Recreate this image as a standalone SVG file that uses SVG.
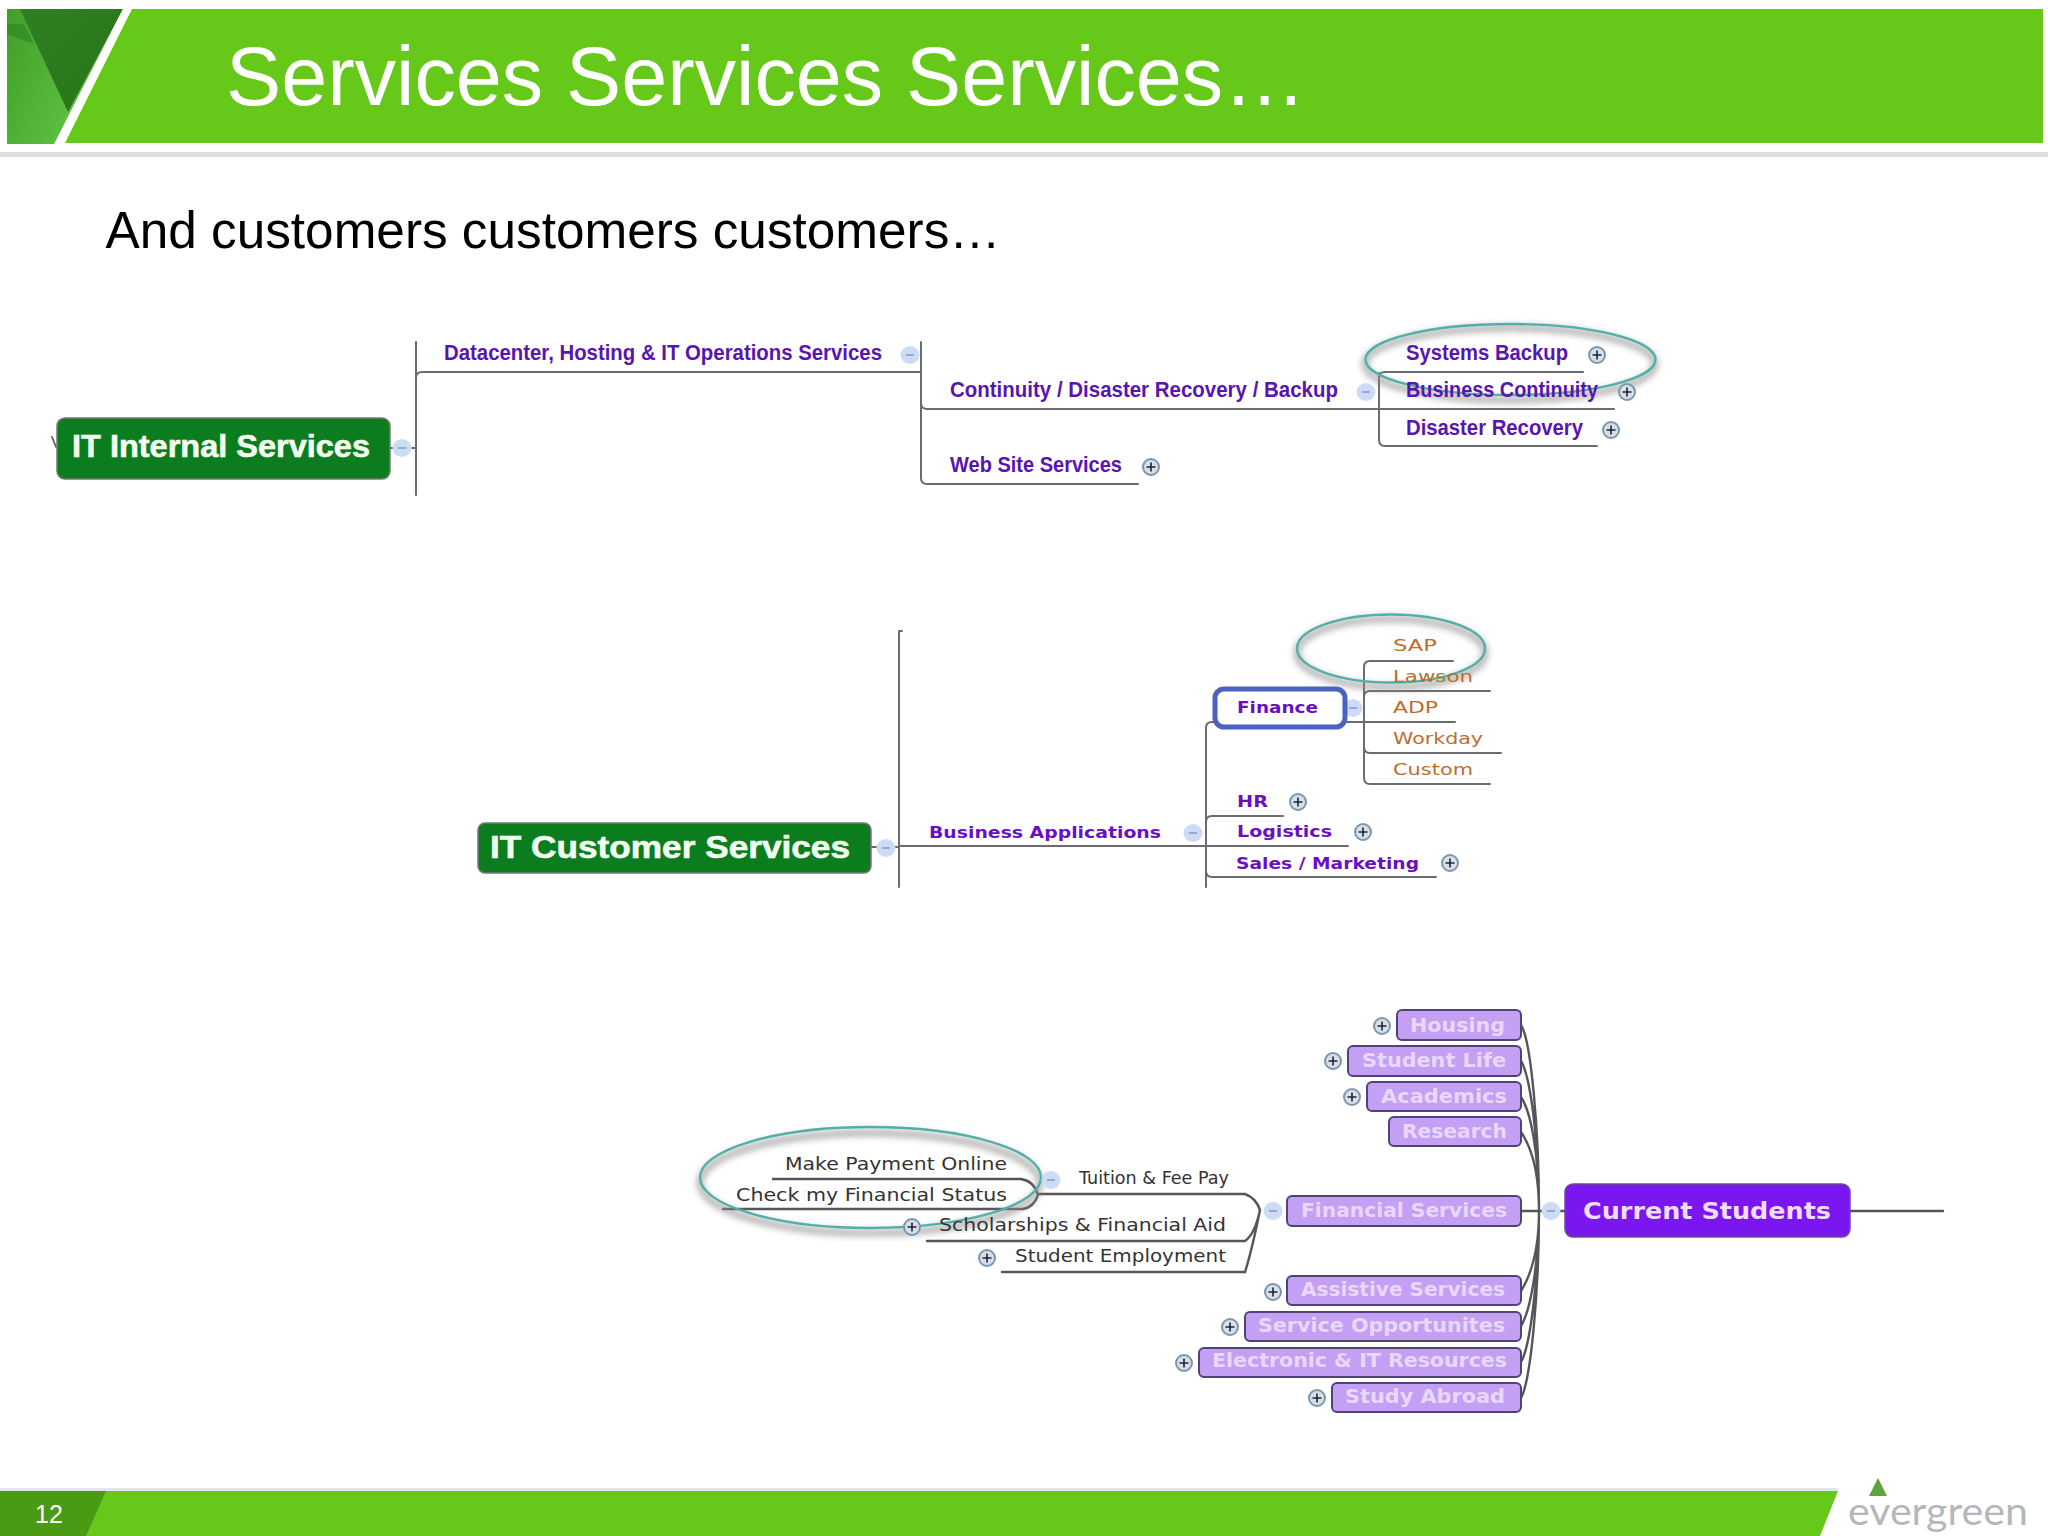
<svg xmlns="http://www.w3.org/2000/svg" width="2048" height="1536" viewBox="0 0 2048 1536">
<style>
.ln{fill:none;stroke:#6b6b70;stroke-width:2;stroke-linecap:round}
.cv{fill:none;stroke:#55555a;stroke-width:2.4;stroke-linecap:round}
.ring{fill:none;stroke:#52afa9;stroke-width:2.4}
.ringsh{fill:none;stroke:#8f8f8f;stroke-width:7;opacity:.65;filter:url(#bl)}
.p1{font:bold 22px "Liberation Sans",Arial,sans-serif;fill:#5a14b0}
.p2{font:bold 16.5px "DejaVu Sans",sans-serif;fill:#6a10c4}
.or{font:16.5px "DejaVu Sans",sans-serif;fill:#bd6c2c}
.bk{font:17px "DejaVu Sans",sans-serif;fill:#333}
.bx{fill:#c4a0f4;stroke:#4f4478;stroke-width:2}
.bt{font:bold 19px "DejaVu Sans",sans-serif;fill:#e9d8fb}
.root{fill:#0b7d1f;stroke:#777;stroke-width:1.5}
.rt{font:bold 32px "Liberation Sans",Arial,sans-serif;fill:#f2fff0;stroke:#f2fff0;stroke-width:.6}
</style>
<defs>
<filter id="bl" x="-20%" y="-40%" width="140%" height="180%"><feGaussianBlur stdDeviation="3"/></filter>
<linearGradient id="lg" x1="0" y1="0" x2="1" y2="1"><stop offset="0" stop-color="#3f9e2a"/><stop offset="1" stop-color="#5cc041"/></linearGradient>
<linearGradient id="dg" x1="0" y1="0" x2="1" y2="1"><stop offset="0" stop-color="#2f7f22"/><stop offset="1" stop-color="#2a7518"/></linearGradient>
<g id="plus"><circle r="8" fill="#d5e0ea" stroke="#7d97aa" stroke-width="2"/><path d="M-4.5 0H4.5M0-4.5V4.5" stroke="#223" stroke-width="1.6"/></g>
<g id="minus"><ellipse rx="9.5" ry="9" fill="#cddcf6"/><path d="M-4 0H4" stroke="#8a9cc0" stroke-width="1.6"/></g>
</defs>
<rect width="2048" height="1536" fill="#fff"/>

<g id="header">
<rect x="7" y="9" width="58" height="135" fill="url(#lg)"/>
<polygon points="65,9 123,9 55,144 65,144" fill="#5cc041"/>
<polygon points="20,9 123,9 68,112" fill="url(#dg)"/>
<polygon points="7,24 24,24 34,44 7,34" fill="#2f8a22" opacity=".7"/>
<polygon points="123,9 132,9 65,144 54,144" fill="#fff"/>
<polygon points="132,9 2043,9 2043,143 65,143" fill="#66c91a"/>
<rect x="0" y="152" width="2048" height="5" fill="#dcdce0"/>
<text x="226" y="105" font-family="Liberation Sans, Arial, sans-serif" font-size="82.7" fill="#fff">Services Services Services…</text>
</g>
<text id="subtitle" x="105.5" y="248" font-family="Liberation Sans, Arial, sans-serif" font-size="51.3" fill="#000">And customers customers customers…</text>

<g id="connectors">
<path class="ln" d="M52 437L56 447M390 448H416M416 342V495M416 378Q416 372 422 372H921M921 342V478Q921 484 927 484H1138M921 403Q921 409 927 409H1614M1379 378Q1379 372 1385 372H1583M1379 373V440Q1379 446 1385 446H1597"/>
<path class="ln" d="M871 847H899M899 631V887M899 631H902M899 846H1348M1206 887V728Q1206 722 1212 722H1455M1206 822Q1206 816 1212 816H1283M1206 871Q1206 877 1212 877H1436M1364 667Q1364 661 1370 661H1453M1364 667V778Q1364 784 1370 784H1490M1364 697Q1364 691 1370 691H1490M1364 722H1455M1364 747Q1364 753 1370 753H1501"/>
<path class="cv" d="M773 1179H1021Q1034 1181 1038 1195Q1034 1207 1023 1209H723M1038 1194H1245Q1256 1198 1260 1210Q1255 1234 1245 1241H927M1260 1210Q1252 1250 1245 1272H1002"/>
<path class="cv" d="M1521 1211H1542M1521 1025C1531 1040 1539 1130 1539 1211M1521 1061C1530 1075 1539 1140 1539 1211M1521 1097C1530 1110 1539 1150 1539 1211M1521 1132C1530 1145 1539 1170 1539 1211M1521 1291C1531 1275 1539 1250 1539 1211M1521 1326C1531 1310 1539 1260 1539 1211M1521 1362C1531 1345 1539 1270 1539 1211M1521 1398C1531 1380 1539 1290 1539 1211M1560 1211H1565M1850 1211H1943"/>
</g>

<g id="ring-internal"><ellipse class="ringsh" cx="1510" cy="364" rx="145" ry="36"/><ellipse class="ring" cx="1510.5" cy="359.5" rx="145" ry="35.5"/></g>
<g id="ring-sap"><ellipse class="ringsh" cx="1391" cy="653" rx="94" ry="34"/><ellipse class="ring" cx="1391" cy="648.5" rx="94" ry="34"/></g>
<g id="ring-pay"><ellipse class="ringsh" cx="870" cy="1183" rx="170" ry="50"/><ellipse class="ring" cx="870.5" cy="1177.5" rx="170.5" ry="50.5"/></g>

<g id="node-it-internal"><rect class="root" x="57" y="418" width="333" height="61" rx="8"/><text class="rt" x="72" y="457" textLength="298" lengthAdjust="spacingAndGlyphs">IT Internal Services</text><use href="#minus" x="402" y="448"/></g>
<g id="node-datacenter"><text class="p1" x="444" y="360" textLength="438" lengthAdjust="spacingAndGlyphs">Datacenter, Hosting &amp; IT Operations Services</text><use href="#minus" x="910" y="355"/></g>
<g id="node-continuity"><text class="p1" x="950" y="397" textLength="388" lengthAdjust="spacingAndGlyphs">Continuity / Disaster Recovery / Backup</text><use href="#minus" x="1366" y="392"/></g>
<g id="node-web"><text class="p1" x="950" y="472" textLength="172" lengthAdjust="spacingAndGlyphs">Web Site Services</text><use href="#plus" x="1151" y="467"/></g>
<g id="node-systems"><text class="p1" x="1406" y="360" textLength="162" lengthAdjust="spacingAndGlyphs">Systems Backup</text><use href="#plus" x="1597" y="355"/></g>
<g id="node-business"><text class="p1" x="1406" y="397" textLength="192" lengthAdjust="spacingAndGlyphs">Business Continuity</text><use href="#plus" x="1627" y="392"/></g>
<g id="node-disaster"><text class="p1" x="1406" y="435" textLength="177" lengthAdjust="spacingAndGlyphs">Disaster Recovery</text><use href="#plus" x="1611" y="430"/></g>

<g id="node-it-customer"><rect class="root" x="478" y="823" width="393" height="50" rx="7"/><text class="rt" x="490" y="858" font-size="29" textLength="360" lengthAdjust="spacingAndGlyphs">IT Customer Services</text><use href="#minus" x="886" y="848"/></g>
<g id="node-business-apps"><text class="p2" x="929" y="838" textLength="232" lengthAdjust="spacingAndGlyphs">Business Applications</text><use href="#minus" x="1193" y="833"/></g>
<g id="node-finance"><use href="#minus" x="1353" y="708"/><rect x="1215" y="689" width="130" height="38" rx="9" fill="#fff" stroke="#4a63c0" stroke-width="5"/><text class="p2" x="1237" y="713" textLength="81" lengthAdjust="spacingAndGlyphs">Finance</text></g>
<g id="node-hr"><text class="p2" x="1237" y="807" textLength="31" lengthAdjust="spacingAndGlyphs">HR</text><use href="#plus" x="1298" y="802"/></g>
<g id="node-logistics"><text class="p2" x="1237" y="837" textLength="95" lengthAdjust="spacingAndGlyphs">Logistics</text><use href="#plus" x="1363" y="832"/></g>
<g id="node-sales"><text class="p2" x="1236" y="869" textLength="183" lengthAdjust="spacingAndGlyphs">Sales / Marketing</text><use href="#plus" x="1450" y="863"/></g>
<g id="node-sap"><text class="or" x="1393" y="651" textLength="44" lengthAdjust="spacingAndGlyphs">SAP</text></g>
<g id="node-lawson"><text class="or" x="1393" y="682" textLength="80" lengthAdjust="spacingAndGlyphs">Lawson</text></g>
<g id="node-adp"><text class="or" x="1393" y="713" textLength="45" lengthAdjust="spacingAndGlyphs">ADP</text></g>
<g id="node-workday"><text class="or" x="1393" y="744" textLength="90" lengthAdjust="spacingAndGlyphs">Workday</text></g>
<g id="node-custom"><text class="or" x="1393" y="775" textLength="80" lengthAdjust="spacingAndGlyphs">Custom</text></g>

<g id="node-make-payment"><text class="bk" x="785" y="1170" textLength="222" lengthAdjust="spacingAndGlyphs">Make Payment Online</text></g>
<g id="node-check"><text class="bk" x="736" y="1201" textLength="271" lengthAdjust="spacingAndGlyphs">Check my Financial Status</text></g>
<g id="node-tuition"><text class="bk" x="1079" y="1184" font-size="15" textLength="150" lengthAdjust="spacingAndGlyphs">Tuition &amp; Fee Pay</text><use href="#minus" x="1051" y="1180"/></g>
<g id="node-scholarships"><text class="bk" x="939" y="1231" textLength="287" lengthAdjust="spacingAndGlyphs">Scholarships &amp; Financial Aid</text><use href="#plus" x="912" y="1227"/></g>
<g id="node-employment"><text class="bk" x="1015" y="1262" textLength="211" lengthAdjust="spacingAndGlyphs">Student Employment</text><use href="#plus" x="987" y="1258"/></g>

<g id="node-housing"><rect class="bx" x="1397" y="1010" width="124" height="30" rx="5"/><text class="bt" x="1410" y="1032" textLength="95" lengthAdjust="spacingAndGlyphs">Housing</text><use href="#plus" x="1382" y="1026"/></g>
<g id="node-student-life"><rect class="bx" x="1348" y="1046" width="173" height="30" rx="5"/><text class="bt" x="1362" y="1067" textLength="144" lengthAdjust="spacingAndGlyphs">Student Life</text><use href="#plus" x="1333" y="1061"/></g>
<g id="node-academics"><rect class="bx" x="1367" y="1082" width="154" height="29" rx="5"/><text class="bt" x="1381" y="1103" textLength="126" lengthAdjust="spacingAndGlyphs">Academics</text><use href="#plus" x="1352" y="1097"/></g>
<g id="node-research"><rect class="bx" x="1389" y="1117" width="132" height="29" rx="5"/><text class="bt" x="1402" y="1138" textLength="105" lengthAdjust="spacingAndGlyphs">Research</text></g>
<g id="node-financial"><rect class="bx" x="1287" y="1196" width="234" height="30" rx="5"/><text class="bt" x="1301" y="1217" textLength="206" lengthAdjust="spacingAndGlyphs">Financial Services</text><use href="#minus" x="1273" y="1211"/></g>
<g id="node-assistive"><rect class="bx" x="1287" y="1276" width="234" height="29" rx="5"/><text class="bt" x="1301" y="1296" textLength="204" lengthAdjust="spacingAndGlyphs">Assistive Services</text><use href="#plus" x="1273" y="1292"/></g>
<g id="node-service"><rect class="bx" x="1245" y="1312" width="276" height="29" rx="5"/><text class="bt" x="1258" y="1332" textLength="247" lengthAdjust="spacingAndGlyphs">Service Opportunites</text><use href="#plus" x="1230" y="1327"/></g>
<g id="node-electronic"><rect class="bx" x="1199" y="1348" width="322" height="29" rx="5"/><text class="bt" x="1212" y="1367" textLength="295" lengthAdjust="spacingAndGlyphs">Electronic &amp; IT Resources</text><use href="#plus" x="1184" y="1363"/></g>
<g id="node-study"><rect class="bx" x="1332" y="1383" width="189" height="29" rx="5"/><text class="bt" x="1345" y="1403" textLength="160" lengthAdjust="spacingAndGlyphs">Study Abroad</text><use href="#plus" x="1317" y="1398"/></g>
<g id="node-current"><use href="#minus" x="1551" y="1211"/><rect x="1565" y="1184" width="285" height="53" rx="8" fill="#7a16f0" stroke="#6a4aa0" stroke-width="1.5"/><text x="1583" y="1219" font-family="DejaVu Sans, sans-serif" font-weight="bold" font-size="23" fill="#f0dcff" textLength="248" lengthAdjust="spacingAndGlyphs">Current Students</text></g>

<g id="footer">
<rect x="0" y="1488" width="1838" height="3" fill="#e6e6ea"/>
<polygon points="0,1491 1838,1491 1820,1536 0,1536" fill="#66c91a"/>
<polygon points="0,1491 106,1491 86,1536 0,1536" fill="#4a9a14"/>
<text x="35" y="1523" font-family="Liberation Sans, Arial, sans-serif" font-size="25" fill="#fff">12</text>
<polygon points="1878,1478 1887,1496 1869,1496" fill="#5da53a"/>
<text x="1848" y="1525" font-family="Lato, sans-serif" font-size="39" fill="#b4b7bb" textLength="180" lengthAdjust="spacingAndGlyphs">evergreen</text>
</g>
</svg>
